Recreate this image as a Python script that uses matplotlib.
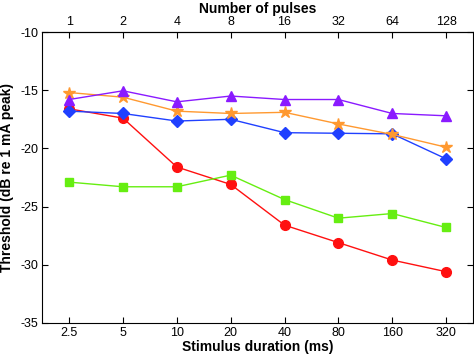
import numpy as np
import matplotlib.pyplot as plt

plt.rcParams['font.family'] = ['Liberation Sans', 'DejaVu Sans']
plt.rcParams['axes.unicode_minus'] = False

duration = [2.5, 5, 10, 20, 40, 80, 160, 320]
pulses = [1, 2, 4, 8, 16, 32, 64, 128]

red = [-16.6, -17.4, -21.6, -23.1, -26.6, -28.1, -29.6, -30.6]
green = [-22.9, -23.3, -23.3, -22.3, -24.4, -26.0, -25.6, -26.8]
blue = [-16.8, -17.0, -17.65, -17.5, -18.65, -18.7, -18.75, -20.9]
orange = [-15.2, -15.6, -16.8, -17.0, -16.9, -17.9, -18.8, -19.9]
purple = [-15.8, -15.05, -16.0, -15.5, -15.8, -15.8, -17.0, -17.2]

fig = plt.figure(figsize=(4.74, 3.56), dpi=100)
ax = fig.add_axes([0.089, 0.093, 0.909, 0.817])

ax.plot(duration, red, '-o', color='#ff1010', lw=1, ms=7, mec='#ff1010')
ax.plot(duration, green, '-s', color='#66ee11', lw=1, ms=6, mec='#66ee11')
ax.plot(duration, blue, '-D', color='#2040ff', lw=1, ms=6, mec='#2040ff')
ax.plot(duration, orange, '-*', color='#ff9930', lw=1, ms=9, mec='#ff9930')
ax.plot(duration, purple, '-^', color='#8a1aff', lw=1, ms=7.5, mec='#8a1aff')

ax.set_xscale('log', base=2)
ax.set_xlim(2.5 / np.sqrt(2), 320 * np.sqrt(2))
ax.set_ylim(-35, -10)
ax.set_xticks(duration)
ax.set_xticklabels([str(d) for d in duration])
ax.minorticks_off()
ax.set_yticks(np.arange(-35, -9, 5))
ax.tick_params(direction='in', length=4, labelsize=9, right=True, pad=3)
ax.set_xlabel('Stimulus duration (ms)', fontsize=10, fontweight='bold', labelpad=1)
ax.set_ylabel('Threshold (dB re 1 mA peak)', fontsize=10, fontweight='bold', labelpad=4)

top = ax.secondary_xaxis('top', functions=(lambda x: x / 2.5, lambda x: x * 2.5))
top.set_xticks(pulses)
top.set_xticklabels([str(p) for p in pulses])
top.minorticks_off()
top.tick_params(direction='in', length=4, labelsize=9, pad=3)
top.set_xlabel('Number of pulses', fontsize=10, fontweight='bold', labelpad=2)

fig.savefig('out.png', dpi=100)
